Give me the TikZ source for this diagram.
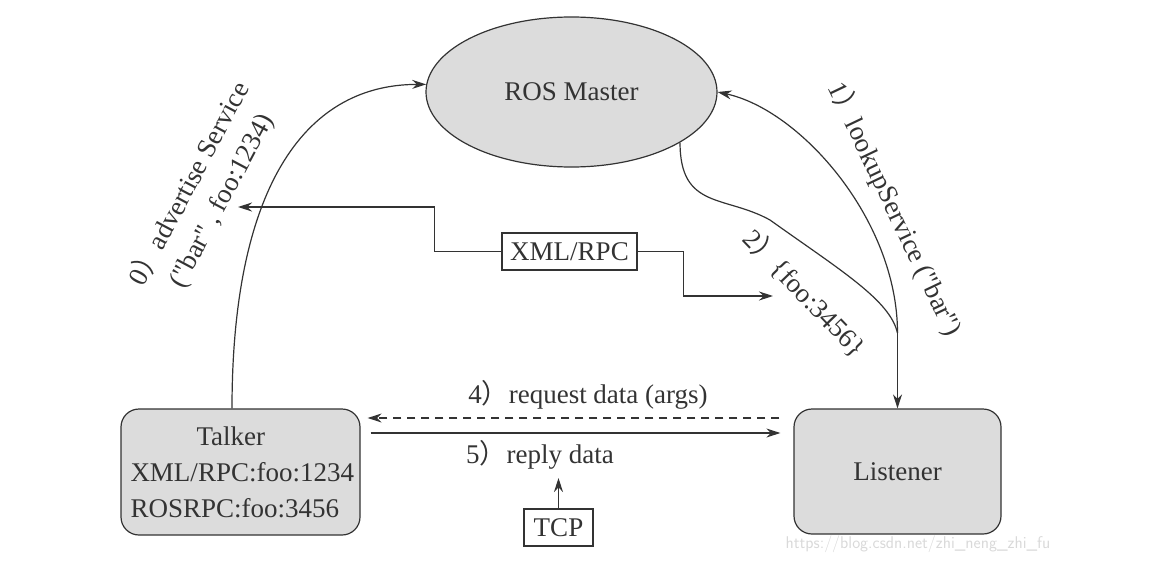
\documentclass[tikz,border=0pt]{standalone}
\usepackage{fontspec}
\setmainfont{Liberation Serif}[Ligatures=TeXOff]
\newfontfamily\cjk{Noto Sans CJK SC}
\newcommand{\fwp}{{\cjk ）}}
\usetikzlibrary{shapes.geometric,arrows.meta}

\definecolor{boxgray}{HTML}{DCDCDC}
\definecolor{linegray}{HTML}{333333}

\begin{document}
\begin{tikzpicture}[x=1pt,y=-1pt,
    font=\fontsize{27}{36}\selectfont,
    color=linegray, line width=1.2pt,
    proc/.style={draw, rounded corners=18pt, fill=boxgray, inner sep=0pt},
    master/.style={draw, ellipse, fill=boxgray, minimum width=291pt, minimum height=150pt, inner sep=0pt},
    tag/.style={draw, fill=white, inner sep=0pt, minimum height=37pt},
    flow/.style={-{Stealth[length=14pt,width=9pt]}}]

  \useasboundingbox (0,0) rectangle (1162,562);

  \node[master] (master) at (571.5,92) {ROS Master};
  \node[proc, minimum width=239pt, minimum height=126pt, text width=220pt, align=left] (talker) at (240.5,472)
    {\hspace*{66pt}Talker\\XML/RPC:foo:1234\\ROSRPC:foo:3456};
  \node[proc, minimum width=207pt, minimum height=125pt] (listener) at (897.5,471.5) {Listener};
  \node[tag, minimum width=135pt] (xmlrpc) at (569.5,251.5) {XML/RPC};
  \node[tag, minimum width=69pt] (tcp) at (558.5,527.5) {TCP};

  \coordinate (j) at (897.5,333);
  \coordinate (advtip) at (238,207);
  \coordinate (footip) at (773,296);
  \coordinate (tcptip) at (558.5,478);

  % master <-> talker / listener
  \draw[flow] ([xshift=-8.5pt]talker.north) .. controls +(0,-215) and +(-125,0) .. (master.177);
  \draw[flow] (j) .. controls +(0,-113) and +(83,18) .. (master.east);
  \draw (master.-25) .. controls +(0,67) and +(-45,-25) .. (770,220)
    .. controls +(70,50) and +(-7.5,-33) .. (j);
  \draw[flow] (j) -- (listener.north);

  \draw[flow] (xmlrpc.west) -- ++(-67,0) |- (advtip);
  \draw[flow] (xmlrpc.east) -- ++(46,0) |- (footip);

  % talker <-> listener
  \draw[flow, dash pattern=on 8pt off 6pt] ([xshift=-14pt,yshift=53.5pt]listener.west) -- ([xshift=7pt,yshift=54pt]talker.east);
  \draw[flow] ([xshift=10pt,yshift=39pt]talker.east) -- ([xshift=-13pt,yshift=38.5pt]listener.west);
  \draw[flow] (tcp) -- (tcptip);

  \node[rotate=62, align=center] (adv) at (205,192) {0\fwp advertise Service\\("bar" , foo:1234)};
  \node[rotate=-64.5] (lookup) at (895,209) {1\fwp lookupService ("bar")};
  \node[rotate=-46] (foo) at (805,293) {2\fwp \{foo:3456\}};
  \node (req) at (588,395) {4\fwp request data (args)};
  \node (rep) at (540,455) {5\fwp reply data};

  \node[font=\sffamily\fontsize{17}{20}\selectfont, text=black!15] (mark) at (918,544) {https://blog.csdn.net/zhi\_neng\_zhi\_fu};

\end{tikzpicture}
\end{document}
